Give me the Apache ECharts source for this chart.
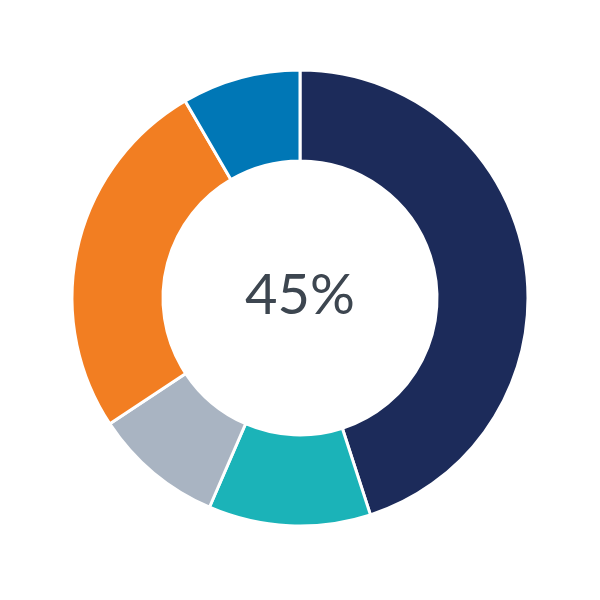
<!DOCTYPE html>
<html>
<head>
<meta charset="utf-8">
<script src="https://cdn.jsdelivr.net/npm/echarts@6/dist/echarts.min.js"></script>
<style>
  html, body { margin: 0; padding: 0; background: #fff; }
  #chart { width: 600px; height: 600px; }
</style>
</head>
<body>
<div id="chart"></div>
<script>
var categories = ['A', 'B', 'C', 'D', 'E'];
var values = [45, 11.5, 9.2, 25.9, 8.4];
var colors = ['#1c2b5a', '#1bb3b8', '#a9b4c2', '#f27e22', '#0077b6'];
var centerText = '45%';

var chart = echarts.init(document.getElementById('chart'));

var data = categories.map(function (name, i) {
  return { name: name, value: values[i], itemStyle: { color: colors[i] } };
});

chart.setOption({
  animation: false,
  graphic: [{
    type: 'text',
    left: 'center',
    top: 268,
    style: {
      text: centerText,
      font: '400 56px Lato',
      fill: '#3d4650'
    }
  }],
  series: [{
    type: 'pie',
    center: [300, 298],
    radius: [137, 228],
    startAngle: 90,
    clockwise: true,
    silent: true,
    label: { show: false },
    labelLine: { show: false },
    itemStyle: {
      borderColor: '#ffffff',
      borderWidth: 3
    },
    data: data
  }]
});
</script>
</body>
</html>
